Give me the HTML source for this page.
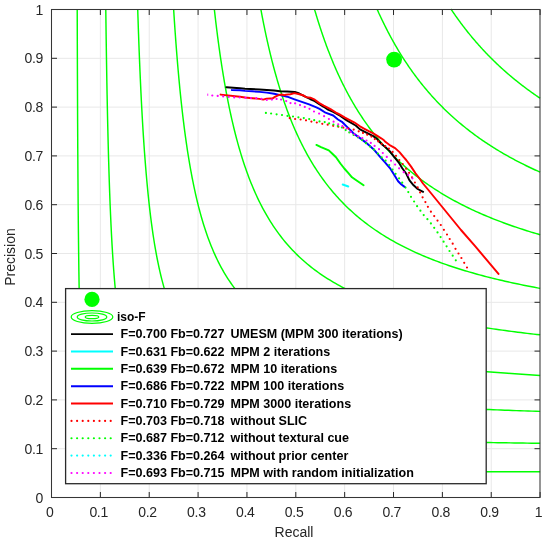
<!DOCTYPE html>
<html><head><meta charset="utf-8"><title>Precision-Recall</title>
<style>
html,body{margin:0;padding:0;background:#fff;width:550px;height:543px;overflow:hidden}
svg{display:block}
.lt{font-family:"Liberation Sans",sans-serif;font-weight:bold;font-size:12.55px;letter-spacing:0px;fill:#000}
</style></head><body>
<svg width="550" height="543" viewBox="0 0 550 543"><path d="M100.36 9.5V497.5 M51.5 448.70H540 M149.22 9.5V497.5 M51.5 399.90H540 M198.08 9.5V497.5 M51.5 351.10H540 M246.94 9.5V497.5 M51.5 302.30H540 M295.80 9.5V497.5 M51.5 253.50H540 M344.66 9.5V497.5 M51.5 204.70H540 M393.52 9.5V497.5 M51.5 155.90H540 M442.38 9.5V497.5 M51.5 107.10H540 M491.24 9.5V497.5 M51.5 58.30H540" stroke="#e8e8e8" stroke-width="1" fill="none"/>
<path d="M77.22 9.50 L77.23 13.64 L77.26 25.61 L77.32 44.24 L77.40 67.86 L77.51 94.65 L77.63 122.95 L77.78 151.38 L77.96 178.94 L78.15 204.97 L78.37 229.10 L78.62 251.18 L78.88 271.18 L79.17 289.20 L79.48 305.37 L79.82 319.84 L80.18 332.79 L80.56 344.36 L80.97 354.71 L81.39 363.99 L81.84 372.32 L82.32 379.80 L82.82 386.54 L83.34 392.63 L83.88 398.13 L84.45 403.12 L85.04 407.66 L85.65 411.79 L86.29 415.55 L86.95 419.00 L87.63 422.15 L88.34 425.05 L89.07 427.72 L89.82 430.18 L90.59 432.45 L91.39 434.55 L92.21 436.49 L93.06 438.30 L93.93 439.98 L94.82 441.54 L95.73 443.00 L96.67 444.36 L97.63 445.63 L98.61 446.82 L99.62 447.94 L100.65 448.99 L101.70 449.97 L102.78 450.90 L103.88 451.77 L105.00 452.59 L106.15 453.37 L107.31 454.11 L108.51 454.80 L109.72 455.46 L110.96 456.08 L112.22 456.67 L113.51 457.24 L114.81 457.77 L116.14 458.28 L117.50 458.76 L118.88 459.22 L120.28 459.66 L121.70 460.08 L123.15 460.48 L124.62 460.86 L126.11 461.22 L127.62 461.57 L129.16 461.90 L130.73 462.22 L132.31 462.53 L133.92 462.82 L135.55 463.10 L137.21 463.37 L138.88 463.63 L140.58 463.88 L142.31 464.12 L144.06 464.35 L145.83 464.57 L147.62 464.79 L149.44 464.99 L151.28 465.19 L153.14 465.38 L155.03 465.56 L156.94 465.74 L158.87 465.91 L160.82 466.08 L162.80 466.24 L164.81 466.39 L166.83 466.54 L168.88 466.69 L170.95 466.83 L173.04 466.96 L175.16 467.09 L177.30 467.22 L179.47 467.34 L181.65 467.46 L183.86 467.58 L186.10 467.69 L188.35 467.80 L190.63 467.90 L192.94 468.01 L195.26 468.10 L197.61 468.20 L199.98 468.29 L202.38 468.39 L204.80 468.47 L207.24 468.56 L209.70 468.64 L212.19 468.73 L214.70 468.80 L217.24 468.88 L219.80 468.96 L222.38 469.03 L224.98 469.10 L227.61 469.17 L230.26 469.24 L232.93 469.30 L235.63 469.37 L238.35 469.43 L241.09 469.49 L243.85 469.55 L246.64 469.61 L249.46 469.66 L252.29 469.72 L255.15 469.77 L258.03 469.83 L260.93 469.88 L263.86 469.93 L266.81 469.98 L269.79 470.03 L272.78 470.07 L275.80 470.12 L278.85 470.16 L281.91 470.21 L285.00 470.25 L288.12 470.29 L291.25 470.33 L294.41 470.37 L297.59 470.41 L300.80 470.45 L304.03 470.49 L307.28 470.52 L310.56 470.56 L313.85 470.59 L317.17 470.63 L320.52 470.66 L323.89 470.70 L327.28 470.73 L330.69 470.76 L334.13 470.79 L337.59 470.82 L341.07 470.85 L344.58 470.88 L348.11 470.91 L351.66 470.94 L355.24 470.97 L358.83 470.99 L362.46 471.02 L366.10 471.05 L369.77 471.07 L373.46 471.10 L377.18 471.12 L380.91 471.15 L384.68 471.17 L388.46 471.19 L392.27 471.22 L396.10 471.24 L399.95 471.26 L403.83 471.28 L407.73 471.30 L411.65 471.32 L415.60 471.35 L419.56 471.37 L423.56 471.39 L427.57 471.40 L431.61 471.42 L435.67 471.44 L439.76 471.46 L443.87 471.48 L448.00 471.50 L452.15 471.52 L456.33 471.53 L460.53 471.55 L464.75 471.57 L469.00 471.58 L473.27 471.60 L477.56 471.62 L481.88 471.63 L486.22 471.65 L490.58 471.66 L494.97 471.68 L499.38 471.69 L503.81 471.71 L508.27 471.72 L512.74 471.74 L517.25 471.75 L521.77 471.76 L526.32 471.78 L530.89 471.79 L535.48 471.80 L540.10 471.82 M105.79 9.50 L105.80 10.38 L105.83 12.99 L105.89 17.27 L105.96 23.12 L106.06 30.41 L106.18 39.00 L106.32 48.70 L106.48 59.34 L106.67 70.73 L106.87 82.70 L107.10 95.08 L107.35 107.71 L107.62 120.45 L107.92 133.18 L108.23 145.80 L108.57 158.22 L108.93 170.37 L109.31 182.20 L109.71 193.65 L110.13 204.70 L110.58 215.33 L111.04 225.53 L111.53 235.29 L112.04 244.61 L112.58 253.50 L113.13 261.97 L113.70 270.02 L114.30 277.67 L114.92 284.94 L115.56 291.84 L116.22 298.39 L116.91 304.61 L117.61 310.50 L118.34 316.09 L119.09 321.40 L119.86 326.43 L120.65 331.20 L121.47 335.74 L122.30 340.04 L123.16 344.13 L124.04 348.01 L124.94 351.70 L125.86 355.21 L126.81 358.55 L127.78 361.73 L128.76 364.76 L129.77 367.64 L130.81 370.38 L131.86 373.00 L132.93 375.50 L134.03 377.88 L135.15 380.16 L136.29 382.34 L137.45 384.41 L138.63 386.40 L139.84 388.30 L141.07 390.12 L142.31 391.87 L143.58 393.54 L144.88 395.14 L146.19 396.67 L147.53 398.15 L148.88 399.56 L150.26 400.92 L151.66 402.22 L153.09 403.48 L154.53 404.68 L156.00 405.84 L157.48 406.96 L158.99 408.03 L160.52 409.07 L162.08 410.07 L163.65 411.03 L165.25 411.95 L166.86 412.85 L168.50 413.71 L170.16 414.54 L171.85 415.35 L173.55 416.12 L175.28 416.87 L177.03 417.60 L178.80 418.30 L180.59 418.98 L182.40 419.64 L184.24 420.27 L186.09 420.89 L187.97 421.48 L189.87 422.06 L191.79 422.62 L193.74 423.17 L195.70 423.69 L197.69 424.20 L199.70 424.70 L201.73 425.18 L203.78 425.64 L205.85 426.10 L207.95 426.54 L210.07 426.97 L212.21 427.38 L214.37 427.79 L216.55 428.18 L218.75 428.56 L220.98 428.93 L223.23 429.29 L225.50 429.65 L227.79 429.99 L230.10 430.32 L232.43 430.65 L234.79 430.96 L237.17 431.27 L239.57 431.57 L241.99 431.86 L244.43 432.15 L246.90 432.43 L249.38 432.70 L251.89 432.96 L254.42 433.22 L256.97 433.48 L259.55 433.72 L262.14 433.96 L264.76 434.20 L267.40 434.43 L270.06 434.65 L272.74 434.87 L275.44 435.08 L278.17 435.29 L280.91 435.49 L283.68 435.69 L286.47 435.89 L289.29 436.08 L292.12 436.27 L294.97 436.45 L297.85 436.63 L300.75 436.80 L303.67 436.97 L306.61 437.14 L309.58 437.30 L312.56 437.46 L315.57 437.62 L318.60 437.77 L321.65 437.93 L324.73 438.07 L327.82 438.22 L330.94 438.36 L334.07 438.50 L337.23 438.63 L340.41 438.77 L343.62 438.90 L346.84 439.03 L350.09 439.15 L353.36 439.28 L356.65 439.40 L359.96 439.52 L363.29 439.63 L366.65 439.75 L370.02 439.86 L373.42 439.97 L376.84 440.08 L380.28 440.18 L383.75 440.29 L387.23 440.39 L390.74 440.49 L394.27 440.59 L397.82 440.68 L401.39 440.78 L404.99 440.87 L408.60 440.96 L412.24 441.05 L415.90 441.14 L419.58 441.23 L423.28 441.32 L427.01 441.40 L430.75 441.48 L434.52 441.56 L438.31 441.64 L442.12 441.72 L445.95 441.80 L449.81 441.88 L453.68 441.95 L457.58 442.03 L461.50 442.10 L465.44 442.17 L469.41 442.24 L473.39 442.31 L477.40 442.38 L481.42 442.44 L485.47 442.51 L489.55 442.57 L493.64 442.64 L497.75 442.70 L501.89 442.76 L506.05 442.82 L510.23 442.88 L514.43 442.94 L518.66 443.00 L522.90 443.06 L527.17 443.11 L531.46 443.17 L535.77 443.22 L540.10 443.28 M137.72 9.50 L137.73 9.82 L137.76 10.79 L137.81 12.38 L137.88 14.60 L137.98 17.41 L138.09 20.80 L138.22 24.73 L138.37 29.17 L138.54 34.08 L138.73 39.43 L138.94 45.18 L139.17 51.28 L139.42 57.69 L139.70 64.37 L139.99 71.28 L140.30 78.38 L140.63 85.63 L140.98 92.99 L141.35 100.43 L141.75 107.93 L142.16 115.44 L142.59 122.94 L143.04 130.42 L143.52 137.84 L144.01 145.18 L144.52 152.44 L145.06 159.59 L145.61 166.62 L146.18 173.53 L146.78 180.30 L147.39 186.92 L148.02 193.40 L148.68 199.72 L149.35 205.88 L150.05 211.88 L150.76 217.73 L151.49 223.41 L152.25 228.93 L153.02 234.29 L153.82 239.49 L154.63 244.53 L155.47 249.43 L156.32 254.17 L157.20 258.76 L158.09 263.21 L159.01 267.52 L159.94 271.69 L160.90 275.73 L161.88 279.64 L162.87 283.42 L163.89 287.09 L164.92 290.63 L165.98 294.06 L167.06 297.37 L168.15 300.58 L169.27 303.69 L170.41 306.69 L171.56 309.60 L172.74 312.42 L173.94 315.14 L175.15 317.78 L176.39 320.33 L177.65 322.81 L178.93 325.20 L180.22 327.52 L181.54 329.77 L182.88 331.95 L184.24 334.06 L185.62 336.10 L187.01 338.08 L188.43 340.00 L189.87 341.87 L191.33 343.67 L192.81 345.43 L194.31 347.13 L195.83 348.78 L197.37 350.38 L198.92 351.93 L200.50 353.44 L202.10 354.91 L203.72 356.33 L205.36 357.72 L207.02 359.06 L208.70 360.37 L210.40 361.64 L212.12 362.87 L213.86 364.07 L215.62 365.24 L217.40 366.37 L219.20 367.48 L221.03 368.55 L222.87 369.60 L224.73 370.62 L226.61 371.61 L228.51 372.58 L230.43 373.52 L232.37 374.43 L234.33 375.33 L236.32 376.20 L238.32 377.04 L240.34 377.87 L242.38 378.68 L244.44 379.46 L246.53 380.23 L248.63 380.98 L250.75 381.71 L252.89 382.42 L255.06 383.12 L257.24 383.80 L259.44 384.46 L261.67 385.11 L263.91 385.74 L266.17 386.35 L268.46 386.96 L270.76 387.55 L273.08 388.12 L275.43 388.69 L277.79 389.24 L280.17 389.77 L282.58 390.30 L285.00 390.81 L287.45 391.32 L289.91 391.81 L292.40 392.29 L294.90 392.76 L297.43 393.22 L299.97 393.68 L302.54 394.12 L305.12 394.55 L307.73 394.97 L310.35 395.39 L313.00 395.80 L315.66 396.19 L318.35 396.58 L321.06 396.97 L323.78 397.34 L326.53 397.71 L329.29 398.07 L332.08 398.42 L334.89 398.77 L337.71 399.10 L340.56 399.44 L343.43 399.76 L346.32 400.08 L349.22 400.40 L352.15 400.70 L355.10 401.01 L358.06 401.30 L361.05 401.59 L364.06 401.88 L367.09 402.16 L370.14 402.43 L373.20 402.70 L376.29 402.97 L379.40 403.23 L382.53 403.49 L385.68 403.74 L388.85 403.98 L392.04 404.23 L395.24 404.46 L398.47 404.70 L401.72 404.93 L404.99 405.15 L408.28 405.38 L411.59 405.59 L414.92 405.81 L418.27 406.02 L421.64 406.23 L425.03 406.43 L428.44 406.63 L431.87 406.83 L435.32 407.02 L438.79 407.21 L442.28 407.40 L445.79 407.59 L449.32 407.77 L452.87 407.95 L456.45 408.12 L460.04 408.30 L463.65 408.47 L467.28 408.64 L470.93 408.80 L474.60 408.96 L478.29 409.12 L482.01 409.28 L485.74 409.44 L489.49 409.59 L493.26 409.74 L497.06 409.89 L500.87 410.03 L504.70 410.18 L508.55 410.32 L512.43 410.46 L516.32 410.60 L520.23 410.73 L524.17 410.87 L528.12 411.00 L532.09 411.13 L536.09 411.26 L540.10 411.38 M173.65 9.50 L173.66 9.65 L173.69 10.08 L173.73 10.81 L173.80 11.83 L173.88 13.13 L173.98 14.70 L174.10 16.54 L174.24 18.65 L174.39 21.01 L174.57 23.61 L174.76 26.45 L174.97 29.50 L175.20 32.77 L175.45 36.23 L175.71 39.88 L176.00 43.70 L176.30 47.67 L176.62 51.79 L176.96 56.05 L177.31 60.42 L177.69 64.90 L178.08 69.47 L178.50 74.13 L178.93 78.85 L179.38 83.63 L179.84 88.45 L180.33 93.31 L180.83 98.20 L181.35 103.10 L181.90 108.01 L182.45 112.92 L183.03 117.82 L183.63 122.70 L184.24 127.56 L184.87 132.39 L185.52 137.18 L186.19 141.93 L186.88 146.64 L187.58 151.30 L188.31 155.90 L189.05 160.45 L189.81 164.93 L190.59 169.35 L191.39 173.71 L192.20 178.00 L193.04 182.23 L193.89 186.38 L194.76 190.46 L195.65 194.47 L196.55 198.40 L197.48 202.27 L198.42 206.06 L199.38 209.77 L200.36 213.42 L201.36 216.99 L202.38 220.49 L203.41 223.92 L204.47 227.27 L205.54 230.56 L206.63 233.77 L207.74 236.92 L208.87 240.00 L210.01 243.01 L211.17 245.96 L212.36 248.84 L213.56 251.66 L214.77 254.41 L216.01 257.11 L217.27 259.74 L218.54 262.31 L219.83 264.83 L221.14 267.29 L222.47 269.70 L223.82 272.05 L225.18 274.34 L226.57 276.59 L227.97 278.78 L229.39 280.93 L230.83 283.03 L232.28 285.08 L233.76 287.08 L235.25 289.04 L236.76 290.95 L238.29 292.82 L239.84 294.65 L241.41 296.44 L242.99 298.19 L244.59 299.90 L246.22 301.57 L247.86 303.21 L249.51 304.81 L251.19 306.37 L252.89 307.90 L254.60 309.39 L256.33 310.86 L258.08 312.29 L259.85 313.69 L261.63 315.06 L263.44 316.40 L265.26 317.71 L267.10 318.99 L268.96 320.25 L270.84 321.48 L272.74 322.68 L274.65 323.86 L276.59 325.02 L278.54 326.15 L280.51 327.25 L282.49 328.34 L284.50 329.40 L286.53 330.44 L288.57 331.46 L290.63 332.45 L292.71 333.43 L294.81 334.39 L296.92 335.33 L299.06 336.25 L301.21 337.15 L303.38 338.03 L305.57 338.90 L307.78 339.75 L310.01 340.58 L312.25 341.40 L314.51 342.20 L316.79 342.99 L319.09 343.76 L321.41 344.51 L323.75 345.25 L326.10 345.98 L328.48 346.69 L330.87 347.39 L333.28 348.08 L335.70 348.76 L338.15 349.42 L340.61 350.07 L343.10 350.71 L345.60 351.33 L348.12 351.95 L350.65 352.55 L353.21 353.15 L355.78 353.73 L358.38 354.30 L360.99 354.86 L363.62 355.42 L366.27 355.96 L368.93 356.49 L371.62 357.01 L374.32 357.53 L377.04 358.04 L379.78 358.53 L382.54 359.02 L385.31 359.50 L388.11 359.98 L390.92 360.44 L393.75 360.90 L396.60 361.35 L399.47 361.79 L402.35 362.22 L405.26 362.65 L408.18 363.07 L411.12 363.48 L414.08 363.89 L417.06 364.29 L420.05 364.68 L423.07 365.07 L426.10 365.45 L429.15 365.83 L432.22 366.20 L435.30 366.56 L438.41 366.92 L441.53 367.27 L444.68 367.62 L447.84 367.96 L451.02 368.30 L454.21 368.63 L457.43 368.96 L460.66 369.28 L463.92 369.59 L467.19 369.90 L470.47 370.21 L473.78 370.51 L477.11 370.81 L480.45 371.11 L483.81 371.40 L487.19 371.68 L490.59 371.96 L494.01 372.24 L497.45 372.51 L500.90 372.78 L504.37 373.05 L507.86 373.31 L511.37 373.56 L514.90 373.82 L518.44 374.07 L522.01 374.32 L525.59 374.56 L529.19 374.80 L532.81 375.04 L536.44 375.27 L540.10 375.50 M214.37 9.50 L214.37 9.57 L214.40 9.79 L214.44 10.16 L214.50 10.67 L214.57 11.32 L214.66 12.12 L214.77 13.05 L214.89 14.13 L215.03 15.33 L215.18 16.68 L215.35 18.15 L215.54 19.75 L215.74 21.47 L215.96 23.31 L216.20 25.26 L216.45 27.33 L216.72 29.50 L217.01 31.77 L217.31 34.15 L217.62 36.61 L217.96 39.16 L218.31 41.80 L218.67 44.52 L219.06 47.31 L219.46 50.17 L219.87 53.09 L220.30 56.07 L220.75 59.11 L221.22 62.20 L221.70 65.33 L222.19 68.50 L222.71 71.72 L223.23 74.96 L223.78 78.23 L224.34 81.52 L224.92 84.84 L225.51 88.17 L226.13 91.51 L226.75 94.87 L227.40 98.23 L228.06 101.59 L228.73 104.95 L229.42 108.31 L230.13 111.66 L230.86 115.00 L231.60 118.33 L232.36 121.65 L233.13 124.95 L233.92 128.24 L234.73 131.50 L235.55 134.74 L236.39 137.96 L237.24 141.16 L238.11 144.32 L239.00 147.46 L239.90 150.57 L240.82 153.65 L241.76 156.71 L242.71 159.72 L243.68 162.71 L244.67 165.66 L245.67 168.58 L246.69 171.46 L247.72 174.31 L248.77 177.13 L249.84 179.90 L250.92 182.65 L252.02 185.35 L253.14 188.02 L254.27 190.65 L255.42 193.25 L256.58 195.81 L257.76 198.33 L258.96 200.82 L260.17 203.26 L261.40 205.68 L262.65 208.06 L263.91 210.40 L265.19 212.70 L266.48 214.97 L267.80 217.21 L269.12 219.41 L270.47 221.58 L271.83 223.71 L273.20 225.81 L274.59 227.87 L276.00 229.90 L277.43 231.90 L278.87 233.87 L280.33 235.81 L281.80 237.71 L283.29 239.58 L284.80 241.42 L286.32 243.24 L287.86 245.02 L289.42 246.77 L290.99 248.50 L292.58 250.19 L294.18 251.86 L295.80 253.50 L297.44 255.11 L299.09 256.70 L300.76 258.26 L302.44 259.79 L304.15 261.30 L305.87 262.79 L307.60 264.25 L309.35 265.68 L311.12 267.09 L312.90 268.48 L314.70 269.85 L316.52 271.19 L318.35 272.51 L320.20 273.81 L322.06 275.09 L323.94 276.35 L325.84 277.58 L327.75 278.80 L329.68 279.99 L331.63 281.17 L333.59 282.33 L335.57 283.47 L337.57 284.59 L339.58 285.69 L341.61 286.77 L343.65 287.84 L345.71 288.89 L347.79 289.92 L349.88 290.94 L351.99 291.94 L354.11 292.92 L356.26 293.89 L358.41 294.84 L360.59 295.78 L362.78 296.71 L364.99 297.61 L367.21 298.51 L369.45 299.39 L371.70 300.26 L373.98 301.11 L376.26 301.95 L378.57 302.78 L380.89 303.59 L383.23 304.39 L385.58 305.18 L387.95 305.96 L390.34 306.73 L392.74 307.48 L395.16 308.22 L397.59 308.95 L400.04 309.68 L402.51 310.38 L404.99 311.08 L407.49 311.77 L410.01 312.45 L412.54 313.12 L415.09 313.78 L417.66 314.43 L420.24 315.07 L422.84 315.70 L425.45 316.32 L428.08 316.93 L430.73 317.53 L433.39 318.13 L436.07 318.71 L438.76 319.29 L441.48 319.86 L444.20 320.42 L446.95 320.97 L449.71 321.52 L452.49 322.06 L455.28 322.59 L458.09 323.11 L460.91 323.62 L463.76 324.13 L466.61 324.63 L469.49 325.13 L472.38 325.61 L475.29 326.10 L478.21 326.57 L481.15 327.04 L484.11 327.50 L487.08 327.95 L490.07 328.40 L493.07 328.85 L496.09 329.28 L499.13 329.71 L502.18 330.14 L505.25 330.56 L508.34 330.97 L511.44 331.38 L514.56 331.79 L517.70 332.19 L520.85 332.58 L524.02 332.97 L527.20 333.35 L530.40 333.73 L533.62 334.10 L536.85 334.47 L540.10 334.83 M260.90 9.50 L260.91 9.54 L260.93 9.65 L260.96 9.84 L261.01 10.11 L261.07 10.45 L261.15 10.86 L261.24 11.35 L261.35 11.91 L261.47 12.55 L261.60 13.25 L261.74 14.03 L261.91 14.88 L262.08 15.80 L262.27 16.78 L262.47 17.83 L262.69 18.95 L262.92 20.13 L263.16 21.37 L263.42 22.67 L263.69 24.04 L263.98 25.46 L264.28 26.93 L264.59 28.46 L264.92 30.05 L265.26 31.68 L265.62 33.37 L265.99 35.10 L266.37 36.87 L266.77 38.69 L267.18 40.55 L267.61 42.46 L268.05 44.40 L268.50 46.37 L268.97 48.38 L269.45 50.43 L269.95 52.50 L270.46 54.60 L270.98 56.73 L271.52 58.88 L272.07 61.06 L272.63 63.26 L273.21 65.48 L273.81 67.72 L274.41 69.97 L275.03 72.24 L275.67 74.53 L276.32 76.82 L276.98 79.13 L277.66 81.44 L278.35 83.76 L279.05 86.09 L279.77 88.42 L280.51 90.76 L281.25 93.09 L282.01 95.43 L282.79 97.77 L283.58 100.11 L284.38 102.44 L285.20 104.77 L286.03 107.10 L286.87 109.42 L287.73 111.74 L288.60 114.04 L289.49 116.34 L290.39 118.63 L291.30 120.91 L292.23 123.18 L293.18 125.44 L294.13 127.69 L295.10 129.92 L296.09 132.14 L297.08 134.35 L298.10 136.54 L299.12 138.72 L300.16 140.88 L301.22 143.03 L302.28 145.17 L303.37 147.28 L304.46 149.38 L305.57 151.46 L306.70 153.53 L307.83 155.58 L308.99 157.61 L310.15 159.62 L311.33 161.61 L312.52 163.59 L313.73 165.55 L314.95 167.49 L316.19 169.41 L317.44 171.31 L318.70 173.19 L319.98 175.06 L321.27 176.90 L322.58 178.73 L323.89 180.54 L325.23 182.33 L326.57 184.09 L327.94 185.85 L329.31 187.58 L330.70 189.29 L332.10 190.98 L333.52 192.66 L334.95 194.31 L336.40 195.95 L337.85 197.57 L339.33 199.17 L340.81 200.76 L342.31 202.32 L343.83 203.87 L345.36 205.39 L346.90 206.90 L348.46 208.40 L350.03 209.87 L351.61 211.33 L353.21 212.77 L354.82 214.19 L356.45 215.60 L358.09 216.99 L359.74 218.36 L361.41 219.72 L363.09 221.05 L364.79 222.38 L366.50 223.68 L368.22 224.98 L369.96 226.25 L371.71 227.51 L373.48 228.76 L375.26 229.98 L377.05 231.20 L378.86 232.40 L380.68 233.58 L382.52 234.75 L384.37 235.91 L386.23 237.05 L388.11 238.17 L390.00 239.29 L391.91 240.39 L393.83 241.47 L395.76 242.54 L397.71 243.60 L399.67 244.65 L401.64 245.68 L403.63 246.70 L405.64 247.71 L407.65 248.71 L409.69 249.69 L411.73 250.66 L413.79 251.62 L415.86 252.56 L417.95 253.50 L420.05 254.42 L422.17 255.34 L424.29 256.24 L426.44 257.13 L428.59 258.01 L430.77 258.88 L432.95 259.73 L435.15 260.58 L437.36 261.42 L439.59 262.24 L441.83 263.06 L444.08 263.87 L446.35 264.67 L448.63 265.45 L450.93 266.23 L453.24 267.00 L455.57 267.76 L457.90 268.51 L460.26 269.25 L462.62 269.98 L465.00 270.70 L467.40 271.42 L469.80 272.13 L472.23 272.82 L474.66 273.51 L477.11 274.19 L479.58 274.87 L482.05 275.53 L484.55 276.19 L487.05 276.84 L489.57 277.48 L492.11 278.12 L494.65 278.74 L497.21 279.36 L499.79 279.97 L502.38 280.58 L504.98 281.18 L507.60 281.77 L510.23 282.35 L512.88 282.93 L515.54 283.50 L518.21 284.07 L520.90 284.63 L523.60 285.18 L526.31 285.72 L529.04 286.26 L531.79 286.79 L534.54 287.32 L537.31 287.84 L540.10 288.36 M314.59 9.50 L314.60 9.52 L314.61 9.58 L314.64 9.67 L314.68 9.81 L314.73 9.98 L314.80 10.20 L314.87 10.45 L314.95 10.74 L315.05 11.07 L315.16 11.43 L315.27 11.83 L315.40 12.27 L315.55 12.75 L315.70 13.26 L315.86 13.81 L316.04 14.39 L316.22 15.01 L316.42 15.67 L316.63 16.36 L316.85 17.08 L317.08 17.84 L317.32 18.63 L317.57 19.45 L317.84 20.31 L318.12 21.19 L318.40 22.11 L318.70 23.05 L319.01 24.03 L319.33 25.03 L319.67 26.07 L320.01 27.13 L320.37 28.21 L320.73 29.33 L321.11 30.47 L321.50 31.63 L321.90 32.82 L322.31 34.03 L322.73 35.27 L323.17 36.52 L323.61 37.80 L324.07 39.10 L324.54 40.42 L325.02 41.76 L325.51 43.11 L326.01 44.49 L326.52 45.88 L327.05 47.29 L327.58 48.71 L328.13 50.15 L328.69 51.61 L329.26 53.07 L329.84 54.55 L330.43 56.05 L331.03 57.55 L331.65 59.07 L332.27 60.59 L332.91 62.13 L333.56 63.67 L334.22 65.23 L334.89 66.79 L335.57 68.36 L336.26 69.93 L336.97 71.51 L337.68 73.10 L338.41 74.69 L339.15 76.28 L339.90 77.88 L340.66 79.49 L341.43 81.09 L342.22 82.70 L343.01 84.31 L343.82 85.92 L344.64 87.53 L345.46 89.14 L346.30 90.76 L347.16 92.37 L348.02 93.98 L348.89 95.59 L349.78 97.19 L350.67 98.80 L351.58 100.40 L352.50 102.00 L353.43 103.60 L354.37 105.19 L355.32 106.78 L356.29 108.37 L357.26 109.95 L358.25 111.52 L359.25 113.09 L360.26 114.66 L361.28 116.22 L362.31 117.77 L363.35 119.32 L364.41 120.86 L365.47 122.39 L366.55 123.92 L367.64 125.44 L368.74 126.95 L369.85 128.46 L370.97 129.96 L372.10 131.45 L373.25 132.93 L374.40 134.40 L375.57 135.87 L376.75 137.33 L377.94 138.78 L379.14 140.22 L380.35 141.65 L381.57 143.07 L382.81 144.49 L384.05 145.89 L385.31 147.29 L386.58 148.68 L387.86 150.05 L389.15 151.42 L390.45 152.78 L391.77 154.13 L393.09 155.47 L394.43 156.80 L395.78 158.12 L397.13 159.43 L398.50 160.74 L399.88 162.03 L401.28 163.31 L402.68 164.58 L404.10 165.85 L405.52 167.10 L406.96 168.35 L408.41 169.58 L409.87 170.80 L411.34 172.02 L412.82 173.22 L414.32 174.42 L415.82 175.61 L417.34 176.78 L418.87 177.95 L420.41 179.10 L421.96 180.25 L423.52 181.39 L425.09 182.52 L426.68 183.64 L428.27 184.75 L429.88 185.85 L431.50 186.94 L433.12 188.02 L434.77 189.09 L436.42 190.15 L438.08 191.21 L439.75 192.25 L441.44 193.29 L443.14 194.31 L444.85 195.33 L446.57 196.34 L448.30 197.34 L450.04 198.33 L451.79 199.31 L453.56 200.28 L455.33 201.25 L457.12 202.20 L458.92 203.15 L460.73 204.09 L462.55 205.02 L464.38 205.94 L466.22 206.85 L468.08 207.76 L469.94 208.65 L471.82 209.54 L473.71 210.42 L475.61 211.30 L477.52 212.16 L479.44 213.02 L481.38 213.87 L483.32 214.71 L485.28 215.54 L487.25 216.37 L489.23 217.19 L491.22 218.00 L493.22 218.80 L495.23 219.60 L497.25 220.39 L499.29 221.17 L501.34 221.94 L503.39 222.71 L505.46 223.47 L507.54 224.23 L509.63 224.97 L511.74 225.71 L513.85 226.44 L515.98 227.17 L518.11 227.89 L520.26 228.60 L522.42 229.31 L524.59 230.01 L526.77 230.70 L528.97 231.39 L531.17 232.07 L533.39 232.74 L535.61 233.41 L537.85 234.07 L540.10 234.73 M377.23 9.50 L377.24 9.51 L377.25 9.54 L377.27 9.58 L377.30 9.65 L377.34 9.73 L377.38 9.83 L377.43 9.95 L377.49 10.08 L377.56 10.24 L377.64 10.41 L377.73 10.60 L377.82 10.81 L377.92 11.04 L378.03 11.28 L378.15 11.54 L378.28 11.82 L378.41 12.12 L378.55 12.43 L378.70 12.77 L378.86 13.11 L379.03 13.48 L379.20 13.86 L379.39 14.26 L379.58 14.68 L379.78 15.11 L379.99 15.56 L380.20 16.02 L380.43 16.50 L380.66 17.00 L380.90 17.51 L381.15 18.04 L381.40 18.58 L381.67 19.14 L381.94 19.71 L382.22 20.30 L382.51 20.90 L382.81 21.51 L383.11 22.14 L383.43 22.79 L383.75 23.44 L384.08 24.11 L384.42 24.80 L384.76 25.49 L385.12 26.20 L385.48 26.93 L385.85 27.66 L386.23 28.41 L386.61 29.17 L387.01 29.94 L387.41 30.72 L387.82 31.51 L388.24 32.31 L388.67 33.13 L389.11 33.95 L389.55 34.79 L390.00 35.63 L390.46 36.49 L390.93 37.35 L391.41 38.23 L391.89 39.11 L392.38 40.00 L392.88 40.90 L393.39 41.81 L393.91 42.73 L394.44 43.65 L394.97 44.58 L395.51 45.52 L396.06 46.47 L396.62 47.42 L397.18 48.38 L397.76 49.35 L398.34 50.32 L398.93 51.30 L399.53 52.28 L400.14 53.27 L400.75 54.27 L401.37 55.27 L402.01 56.28 L402.64 57.29 L403.29 58.30 L403.95 59.32 L404.61 60.34 L405.28 61.37 L405.96 62.40 L406.65 63.43 L407.35 64.47 L408.05 65.51 L408.76 66.55 L409.49 67.60 L410.21 68.64 L410.95 69.69 L411.70 70.75 L412.45 71.80 L413.21 72.86 L413.98 73.91 L414.76 74.97 L415.54 76.03 L416.34 77.09 L417.14 78.15 L417.95 79.21 L418.77 80.28 L419.59 81.34 L420.43 82.40 L421.27 83.47 L422.12 84.53 L422.98 85.59 L423.85 86.65 L424.73 87.72 L425.61 88.78 L426.50 89.84 L427.40 90.90 L428.31 91.96 L429.22 93.01 L430.15 94.07 L431.08 95.12 L432.02 96.18 L432.97 97.23 L433.93 98.28 L434.89 99.32 L435.87 100.37 L436.85 101.41 L437.84 102.45 L438.83 103.49 L439.84 104.53 L440.85 105.56 L441.88 106.59 L442.91 107.62 L443.94 108.65 L444.99 109.67 L446.04 110.69 L447.11 111.71 L448.18 112.72 L449.26 113.74 L450.34 114.74 L451.44 115.75 L452.54 116.75 L453.65 117.75 L454.77 118.74 L455.90 119.73 L457.04 120.72 L458.18 121.70 L459.33 122.68 L460.49 123.66 L461.66 124.63 L462.84 125.60 L464.02 126.56 L465.22 127.52 L466.42 128.48 L467.63 129.43 L468.85 130.38 L470.07 131.33 L471.31 132.27 L472.55 133.20 L473.80 134.13 L475.06 135.06 L476.32 135.98 L477.60 136.90 L478.88 137.82 L480.17 138.73 L481.47 139.63 L482.78 140.53 L484.09 141.43 L485.41 142.32 L486.74 143.21 L488.08 144.10 L489.43 144.98 L490.79 145.85 L492.15 146.72 L493.52 147.59 L494.90 148.45 L496.29 149.30 L497.69 150.16 L499.09 151.00 L500.51 151.85 L501.93 152.69 L503.36 153.52 L504.79 154.35 L506.24 155.17 L507.69 155.99 L509.16 156.81 L510.63 157.62 L512.10 158.43 L513.59 159.23 L515.08 160.03 L516.59 160.82 L518.10 161.61 L519.62 162.39 L521.14 163.17 L522.68 163.94 L524.22 164.71 L525.77 165.48 L527.33 166.24 L528.90 167.00 L530.47 167.75 L532.06 168.50 L533.65 169.24 L535.25 169.98 L536.86 170.71 L538.48 171.44 L540.10 172.17 M451.26 9.50 L451.27 9.50 L451.27 9.51 L451.28 9.53 L451.30 9.55 L451.32 9.58 L451.34 9.62 L451.37 9.66 L451.41 9.71 L451.44 9.77 L451.49 9.83 L451.53 9.90 L451.58 9.98 L451.64 10.06 L451.70 10.15 L451.76 10.24 L451.83 10.35 L451.91 10.45 L451.98 10.57 L452.07 10.69 L452.15 10.82 L452.24 10.95 L452.34 11.09 L452.44 11.24 L452.54 11.40 L452.65 11.56 L452.76 11.72 L452.88 11.89 L453.00 12.07 L453.13 12.26 L453.26 12.45 L453.40 12.65 L453.54 12.85 L453.68 13.06 L453.83 13.28 L453.98 13.50 L454.14 13.73 L454.30 13.96 L454.47 14.20 L454.64 14.45 L454.82 14.70 L455.00 14.96 L455.18 15.22 L455.37 15.49 L455.56 15.77 L455.76 16.05 L455.96 16.33 L456.17 16.63 L456.38 16.92 L456.60 17.23 L456.82 17.54 L457.04 17.85 L457.27 18.17 L457.50 18.50 L457.74 18.83 L457.98 19.16 L458.23 19.50 L458.48 19.85 L458.73 20.20 L458.99 20.56 L459.26 20.92 L459.53 21.29 L459.80 21.66 L460.08 22.04 L460.36 22.42 L460.65 22.81 L460.94 23.20 L461.23 23.59 L461.53 23.99 L461.84 24.40 L462.15 24.81 L462.46 25.23 L462.78 25.64 L463.10 26.07 L463.43 26.50 L463.76 26.93 L464.09 27.37 L464.43 27.81 L464.78 28.25 L465.12 28.70 L465.48 29.15 L465.84 29.61 L466.20 30.07 L466.56 30.54 L466.93 31.01 L467.31 31.48 L467.69 31.96 L468.07 32.44 L468.46 32.92 L468.86 33.41 L469.25 33.90 L469.65 34.39 L470.06 34.89 L470.47 35.39 L470.89 35.90 L471.31 36.41 L471.73 36.92 L472.16 37.43 L472.59 37.95 L473.03 38.47 L473.47 38.99 L473.92 39.52 L474.37 40.05 L474.83 40.58 L475.28 41.12 L475.75 41.66 L476.22 42.20 L476.69 42.74 L477.17 43.28 L477.65 43.83 L478.14 44.38 L478.63 44.94 L479.12 45.49 L479.62 46.05 L480.13 46.61 L480.64 47.17 L481.15 47.74 L481.67 48.30 L482.19 48.87 L482.71 49.44 L483.24 50.01 L483.78 50.59 L484.32 51.16 L484.86 51.74 L485.41 52.32 L485.97 52.90 L486.52 53.49 L487.08 54.07 L487.65 54.66 L488.22 55.24 L488.80 55.83 L489.38 56.42 L489.96 57.01 L490.55 57.61 L491.14 58.20 L491.74 58.80 L492.34 59.39 L492.95 59.99 L493.56 60.59 L494.17 61.19 L494.79 61.79 L495.42 62.39 L496.05 63.00 L496.68 63.60 L497.32 64.21 L497.96 64.81 L498.60 65.42 L499.26 66.02 L499.91 66.63 L500.57 67.24 L501.23 67.85 L501.90 68.46 L502.58 69.07 L503.25 69.68 L503.93 70.29 L504.62 70.90 L505.31 71.51 L506.01 72.12 L506.71 72.73 L507.41 73.34 L508.12 73.96 L508.83 74.57 L509.55 75.18 L510.27 75.79 L511.00 76.41 L511.73 77.02 L512.46 77.63 L513.20 78.24 L513.95 78.86 L514.70 79.47 L515.45 80.08 L516.21 80.69 L516.97 81.30 L517.73 81.92 L518.50 82.53 L519.28 83.14 L520.06 83.75 L520.84 84.36 L521.63 84.97 L522.42 85.58 L523.22 86.19 L524.02 86.79 L524.83 87.40 L525.64 88.01 L526.45 88.62 L527.27 89.22 L528.10 89.83 L528.93 90.43 L529.76 91.04 L530.60 91.64 L531.44 92.24 L532.28 92.85 L533.14 93.45 L533.99 94.05 L534.85 94.65 L535.71 95.25 L536.58 95.84 L537.45 96.44 L538.33 97.04 L539.21 97.63 L540.10 98.23" stroke="#00ff00" stroke-width="1.45" fill="none"/>
<path d="M51.50 497.5v-5.5 M51.50 9.5v5.5 M51.5 497.50h5.5 M540 497.50h-5.5 M100.36 497.5v-5.5 M100.36 9.5v5.5 M51.5 448.70h5.5 M540 448.70h-5.5 M149.22 497.5v-5.5 M149.22 9.5v5.5 M51.5 399.90h5.5 M540 399.90h-5.5 M198.08 497.5v-5.5 M198.08 9.5v5.5 M51.5 351.10h5.5 M540 351.10h-5.5 M246.94 497.5v-5.5 M246.94 9.5v5.5 M51.5 302.30h5.5 M540 302.30h-5.5 M295.80 497.5v-5.5 M295.80 9.5v5.5 M51.5 253.50h5.5 M540 253.50h-5.5 M344.66 497.5v-5.5 M344.66 9.5v5.5 M51.5 204.70h5.5 M540 204.70h-5.5 M393.52 497.5v-5.5 M393.52 9.5v5.5 M51.5 155.90h5.5 M540 155.90h-5.5 M442.38 497.5v-5.5 M442.38 9.5v5.5 M51.5 107.10h5.5 M540 107.10h-5.5 M491.24 497.5v-5.5 M491.24 9.5v5.5 M51.5 58.30h5.5 M540 58.30h-5.5 M540.10 497.5v-5.5 M540.10 9.5v5.5 M51.5 9.50h5.5 M540 9.50h-5.5" stroke="#262626" stroke-width="1" fill="none"/>
<path d="M226.4 87.2 L240.0 88.2 L245.0 88.7 L259.5 89.5 L274.1 90.5 L280.0 91.3 L287.3 91.5 L294.8 92.0 L299.3 93.5 L303.7 95.9 L310.0 99.0 L314.8 101.1 L319.3 104.2 L323.7 106.8 L328.1 109.7 L333.2 111.9 L340.0 115.6 L346.8 120.4 L355.7 125.5 L360.0 129.4 L364.4 131.6 L368.8 133.8 L373.3 136.1 L376.8 138.7 L379.5 141.8 L382.1 144.5 L385.0 146.8 L389.5 150.9 L394.1 156.8 L398.6 162.3 L402.3 168.2 L406.3 173.8 L409.5 180.4 L413.6 185.3 L417.7 189.0 L423.1 191.8" stroke="#000000" stroke-width="1.95" fill="none" stroke-linejoin="round" stroke-linecap="round"/>
<path d="M342.7 184.5 L348.3 186.5" stroke="#00ffff" stroke-width="1.95" fill="none" stroke-linejoin="round" stroke-linecap="round"/>
<path d="M316.4 144.9 L321.0 147.1 L328.8 150.4 L332.1 153.5 L336.0 157.3 L340.4 163.5 L344.3 168.5 L348.2 172.9 L352.0 177.3 L354.8 179.3 L359.2 182.3 L363.6 185.3" stroke="#00ff00" stroke-width="1.95" fill="none" stroke-linejoin="round" stroke-linecap="round"/>
<path d="M231.8 90.1 L240.0 90.3 L245.0 90.9 L252.3 91.3 L259.5 91.9 L266.8 92.6 L274.1 93.8 L279.2 94.9 L287.3 96.7 L294.5 99.3 L301.8 101.8 L309.1 104.4 L316.4 107.3 L320.0 109.1 L325.5 112.7 L333.2 115.5 L338.0 119.5 L342.4 122.2 L346.8 126.6 L351.3 131.0 L353.4 133.4 L361.0 138.9 L365.9 142.6 L373.5 149.2 L380.1 156.8 L385.0 162.4 L389.9 168.1 L394.0 174.6 L398.1 181.2 L401.4 184.5 L404.6 186.9" stroke="#0000ff" stroke-width="1.95" fill="none" stroke-linejoin="round" stroke-linecap="round"/>
<path d="M220.6 94.6 L240.0 96.8 L245.0 97.5 L252.3 98.2 L259.5 98.9 L263.2 99.6 L266.6 98.6 L270.5 98.4 L272.6 98.4 L275.3 96.7 L279.2 94.9 L281.4 94.5 L285.0 95.3 L286.0 94.6 L290.4 94.2 L294.4 93.1 L299.3 94.2 L303.7 95.5 L306.0 97.1 L310.4 97.7 L314.8 99.7 L319.3 103.1 L323.7 105.7 L328.1 107.9 L330.5 109.1 L335.5 112.3 L339.1 114.1 L345.0 117.7 L354.1 122.3 L360.0 126.3 L364.4 128.8 L368.8 131.2 L373.3 133.4 L377.7 136.1 L381.2 138.3 L384.0 140.3 L385.0 141.4 L390.6 145.7 L395.1 148.1 L399.5 152.1 L403.9 157.4 L406.2 160.0 L411.1 166.6 L415.5 173.3 L419.9 179.0 L423.0 183.5 L428.4 190.0 L461.0 230.0 L474.9 245.9 L498.5 273.9" stroke="#ff0000" stroke-width="1.95" fill="none" stroke-linejoin="round" stroke-linecap="round"/>
<path d="M289.7 118.1h0 M295.1 119.0h0 M300.6 119.5h0 M306.0 120.3h0 M311.4 121.6h0 M316.8 122.5h0 M322.3 123.8h0 M327.7 124.7h0 M333.2 125.8h0 M338.3 126.7h0 M343.3 127.6h0 M348.5 128.6h0 M353.7 129.6h0 M358.7 131.3h0 M363.0 132.9h0 M367.2 134.7h0 M371.4 136.6h0 M374.8 139.1h0 M378.3 141.4h0 M381.8 143.8h0 M385.3 146.1h0 M388.9 148.5h0 M392.6 151.9h0 M396.0 155.8h0 M399.3 160.1h0 M402.7 164.1h0 M406.1 168.7h0 M409.1 172.8h0 M412.0 177.3h0 M414.9 182.5h0 M417.7 187.4h0 M420.1 192.4h0 M422.6 197.3h0 M425.4 202.1h0 M427.9 206.8h0 M430.9 211.7h0 M434.2 216.1h0 M437.5 220.6h0 M440.8 225.0h0 M443.9 229.8h0 M447.0 234.5h0 M449.7 239.0h0 M452.7 243.7h0 M455.5 248.8h0 M458.5 253.5h0 M461.4 258.0h0 M464.2 262.8h0 M467.0 267.5h0" stroke="#ff0000" stroke-width="2.2" fill="none" stroke-linecap="round"/>
<path d="M265.9 112.9h0 M271.1 113.5h0 M276.6 114.3h0 M282.0 115.0h0 M287.5 115.9h0 M293.0 116.5h0 M298.4 117.3h0 M303.8 118.1h0 M309.2 119.1h0 M314.2 120.2h0 M319.5 121.4h0 M324.7 122.1h0 M329.1 123.3h0 M333.4 124.5h0 M337.8 126.1h0 M341.9 127.5h0 M345.7 130.1h0 M349.3 132.4h0 M353.6 134.9h0 M357.9 137.3h0 M362.1 139.9h0 M365.9 143.2h0 M370.0 146.5h0 M374.1 149.7h0 M377.9 153.5h0 M381.7 157.4h0 M385.6 160.7h0 M389.2 165.0h0 M392.5 169.6h0 M395.6 173.8h0 M399.1 178.3h0 M402.2 182.7h0 M405.5 187.6h0 M408.3 192.1h0 M411.0 196.8h0 M414.1 201.5h0 M417.1 206.2h0 M420.4 210.7h0 M423.7 215.1h0 M427.4 219.2h0 M430.9 223.4h0 M434.2 227.8h0 M437.5 232.4h0 M440.6 237.1h0 M443.6 241.7h0 M446.6 246.3h0 M449.5 251.0h0 M452.7 255.7h0 M455.8 260.3h0" stroke="#00ff00" stroke-width="2.2" fill="none" stroke-linecap="round"/>
<path d="M212.3 95.5h0 M217.7 95.9h0 M223.2 96.4h0 M228.7 96.9h0 M234.2 97.4h0 M239.7 97.5h0 M245.5 97.7h0 M250.9 98.1h0 M256.3 98.2h0 M261.4 98.9h0 M266.8 100.0h0 M271.9 99.6h0 M276.6 98.9h0 M281.1 99.6h0 M286.2 101.1h0 M290.5 103.1h0 M295.1 103.3h0 M300.0 105.1h0 M304.8 106.9h0 M309.5 108.8h0 M314.0 111.5h0 M319.1 113.6h0 M324.1 116.2h0 M328.9 119.0h0 M333.6 121.7h0 M338.2 124.3h0 M342.4 126.2h0 M346.6 128.5h0 M350.6 131.9h0 M354.4 134.3h0 M358.3 136.4h0 M362.3 138.2h0 M366.5 140.5h0 M370.8 142.9h0 M374.6 145.9h0 M379.0 149.2h0 M382.8 153.0h0 M386.8 156.9h0 M391.0 160.7h0 M395.1 164.6h0 M399.1 168.3h0 M403.7 172.2h0 M408.2 175.0h0 M412.4 178.3h0" stroke="#ff00ff" stroke-width="2.2" fill="none" stroke-linecap="round"/>
<rect x="207" y="93.6" width="1.3" height="2.2" fill="#ff55ff"/>
<circle cx="394.1" cy="59.6" r="7.9" fill="#00ff00"/>
<rect x="51.5" y="9.5" width="488.5" height="488" fill="none" stroke="#363636" stroke-width="1.05"/>
<g font-family="Liberation Sans, sans-serif" font-size="14px" letter-spacing="-0.3px" fill="#262626"><text x="49.80" y="517.3" text-anchor="middle">0</text><text x="43.0" y="502.50" text-anchor="end">0</text><text x="98.66" y="517.3" text-anchor="middle">0.1</text><text x="43.0" y="453.70" text-anchor="end">0.1</text><text x="147.52" y="517.3" text-anchor="middle">0.2</text><text x="43.0" y="404.90" text-anchor="end">0.2</text><text x="196.38" y="517.3" text-anchor="middle">0.3</text><text x="43.0" y="356.10" text-anchor="end">0.3</text><text x="245.24" y="517.3" text-anchor="middle">0.4</text><text x="43.0" y="307.30" text-anchor="end">0.4</text><text x="294.10" y="517.3" text-anchor="middle">0.5</text><text x="43.0" y="258.50" text-anchor="end">0.5</text><text x="342.96" y="517.3" text-anchor="middle">0.6</text><text x="43.0" y="209.70" text-anchor="end">0.6</text><text x="391.82" y="517.3" text-anchor="middle">0.7</text><text x="43.0" y="160.90" text-anchor="end">0.7</text><text x="440.68" y="517.3" text-anchor="middle">0.8</text><text x="43.0" y="112.10" text-anchor="end">0.8</text><text x="489.54" y="517.3" text-anchor="middle">0.9</text><text x="43.0" y="63.30" text-anchor="end">0.9</text><text x="538.40" y="517.3" text-anchor="middle">1</text><text x="43.0" y="14.50" text-anchor="end">1</text></g>
<text x="294" y="536.5" text-anchor="middle" font-family="Liberation Sans, sans-serif" font-size="14px" fill="#262626">Recall</text>
<text transform="translate(15.4 257) rotate(-90)" text-anchor="middle" font-family="Liberation Sans, sans-serif" font-size="14px" fill="#262626">Precision</text>
<rect x="65.6" y="288.6" width="420.6" height="195.1" fill="#fff" stroke="#2a2a2a" stroke-width="1.3"/><circle cx="92" cy="299.4" r="7.6" fill="#00ff00"/><g fill="none" stroke="#00ff00" stroke-width="1.2"><ellipse cx="92" cy="317" rx="20.8" ry="6.3"/><ellipse cx="92" cy="317" rx="14.8" ry="4"/><ellipse cx="92" cy="317" rx="6.8" ry="1.7"/></g><text x="117" y="321" font-family="Liberation Sans, sans-serif" font-weight="bold" font-size="12px" fill="#000">iso-F</text><path d="M71 334.10H113" stroke="#000000" stroke-width="1.9"/><text x="120.5" y="338.20" class="lt">F=0.700 Fb=0.727</text><text x="230.5" y="338.20" class="lt">UMESM (MPM 300 iterations)</text><path d="M71 351.46H113" stroke="#00ffff" stroke-width="1.9"/><text x="120.5" y="355.56" class="lt">F=0.631 Fb=0.622</text><text x="230.5" y="355.56" class="lt">MPM 2 iterations</text><path d="M71 368.82H113" stroke="#00ff00" stroke-width="1.9"/><text x="120.5" y="372.92" class="lt">F=0.639 Fb=0.672</text><text x="230.5" y="372.92" class="lt">MPM 10 iterations</text><path d="M71 386.18H113" stroke="#0000ff" stroke-width="1.9"/><text x="120.5" y="390.28" class="lt">F=0.686 Fb=0.722</text><text x="230.5" y="390.28" class="lt">MPM 100 iterations</text><path d="M71 403.54H113" stroke="#ff0000" stroke-width="1.9"/><text x="120.5" y="407.64" class="lt">F=0.710 Fb=0.729</text><text x="230.5" y="407.64" class="lt">MPM 3000 iterations</text><path d="M71.5 420.90H112" stroke="#ff0000" stroke-width="2.2" stroke-dasharray="0 5.6" stroke-linecap="round"/><text x="120.5" y="425.00" class="lt">F=0.703 Fb=0.718</text><text x="230.5" y="425.00" class="lt">without SLIC</text><path d="M71.5 438.26H112" stroke="#00ff00" stroke-width="2.2" stroke-dasharray="0 5.6" stroke-linecap="round"/><text x="120.5" y="442.36" class="lt">F=0.687 Fb=0.712</text><text x="230.5" y="442.36" class="lt">without textural cue</text><path d="M71.5 455.62H112" stroke="#00ffff" stroke-width="2.2" stroke-dasharray="0 5.6" stroke-linecap="round"/><text x="120.5" y="459.72" class="lt">F=0.336 Fb=0.264</text><text x="230.5" y="459.72" class="lt">without prior center</text><path d="M71.5 472.98H112" stroke="#ff00ff" stroke-width="2.2" stroke-dasharray="0 5.6" stroke-linecap="round"/><text x="120.5" y="477.08" class="lt">F=0.693 Fb=0.715</text><text x="230.5" y="477.08" class="lt">MPM with random initialization</text></svg>
</body></html>
